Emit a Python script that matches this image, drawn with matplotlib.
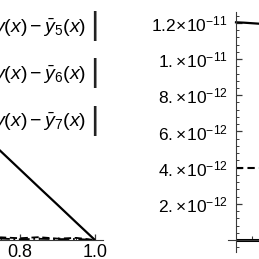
import numpy as np
import matplotlib
matplotlib.use('Agg')
import matplotlib.pyplot as plt
from matplotlib.ticker import FixedLocator, FixedFormatter, NullFormatter

plt.rcParams['font.family'] = ['Liberation Sans', 'DejaVu Sans']
plt.rcParams['mathtext.fontset'] = 'custom'
plt.rcParams['mathtext.rm'] = 'Liberation Sans'
plt.rcParams['mathtext.it'] = 'Liberation Sans:italic'

# left panel: error curves near x = 1
x_left = [0.70, 0.75, 0.80, 0.85, 0.90, 0.95, 1.00]
err5 = [5.85e-12, 4.88e-12, 3.9e-12, 2.92e-12, 1.95e-12, 0.97e-12, 0.0]
err6 = [0.12e-12, 0.15e-12, 0.10e-12, 0.16e-12, 0.08e-12, 0.12e-12, 0.0]
err7 = [0.05e-12, 0.08e-12, 0.04e-12, 0.07e-12, 0.05e-12, 0.06e-12, 0.0]
labels = [r'$\left|y(x)-\bar{y}_5(x)\right.$',
          r'$\left|y(x)-\bar{y}_6(x)\right.$',
          r'$\left|y(x)-\bar{y}_7(x)\right.$']

# right panel
x_right = [0.0, 0.05, 0.10, 0.15, 0.20, 0.40, 0.60, 0.80, 1.00]
sol = [1.203e-11, 1.201e-11, 1.198e-11, 1.195e-11, 1.192e-11, 1.18e-11, 1.17e-11, 1.16e-11, 1.15e-11]
dash = [4.0e-12] * len(x_right)
zero = [0.0] * len(x_right)

ytick_vals = [2e-12, 4e-12, 6e-12, 8e-12, 1e-11, 1.2e-11]
ytick_labels = [r'$2.\!\times\!10^{-12}$', r'$4.\!\times\!10^{-12}$', r'$6.\!\times\!10^{-12}$',
                r'$8.\!\times\!10^{-12}$', r'$1.\!\times\!10^{-11}$', r'$1.2\!\times\!10^{-11}$']

W = 259.0
fig = plt.figure(figsize=(2.59, 2.59), dpi=100)
axis_col = '#3a3a3a'

# left axes, mostly outside the figure
axl = fig.add_axes([-280 / W, 7 / W, 382.5 / W, 240 / W])
axl.set_xlim(0, 1.02)
axl.set_ylim(-0.66e-12, 1.26e-11)
axl.plot(x_left, err5, color='black', lw=1.6, solid_capstyle='butt')
axl.plot(x_left, err6, color='black', lw=1.3, ls=(0, (4, 2)))
axl.plot(x_left, err7, color='black', lw=1.3, ls=(0, (6, 2, 1, 2)))
for s in ['top', 'right', 'left']:
    axl.spines[s].set_visible(False)
axl.spines['bottom'].set_position(('data', 0))
axl.spines['bottom'].set_color(axis_col)
axl.set_yticks([])
axl.xaxis.set_major_locator(FixedLocator([0.8, 1.0]))
axl.xaxis.set_major_formatter(FixedFormatter(['0.8', '1.0']))
axl.xaxis.set_minor_locator(FixedLocator(np.arange(0.75, 1.02, 0.05)))
axl.tick_params(axis='x', which='major', direction='in', length=4, width=0.9,
                color=axis_col, labelsize=13, pad=3)
axl.tick_params(axis='x', which='minor', direction='in', length=2.2, width=0.7, color=axis_col)
axl.patch.set_alpha(0)

for i, lab in enumerate(labels):
    yc = 1 - (26 + 47.5 * i) / W
    fig.text(86 / W, yc, lab, ha='right', va='center', fontsize=14)
    fig.text(94.5 / W, yc, '|', ha='center', va='center', fontsize=23,
             family='Liberation Sans', color='#222222')

# right axes
axr = fig.add_axes([228 / W, 7 / W, 168 / W, 240 / W])
axr.set_xlim(-0.05, 1.0)
axr.set_ylim(-0.66e-12, 1.26e-11)
axr.plot(x_right, sol, color='black', lw=1.6)
axr.plot(x_right, dash, color='black', lw=1.5, ls=(0, (3.5, 2)))
axr.plot(x_right, zero, color='black', lw=2.2, ls=(0, (12, 6)))
for s in ['top', 'right']:
    axr.spines[s].set_visible(False)
axr.spines['left'].set_position(('data', 0))
axr.spines['bottom'].set_position(('data', 0))
axr.spines['left'].set_color(axis_col)
axr.spines['bottom'].set_color(axis_col)
axr.yaxis.set_major_locator(FixedLocator(ytick_vals))
axr.yaxis.set_major_formatter(FixedFormatter(ytick_labels))
axr.yaxis.set_minor_locator(FixedLocator(np.arange(-0.4e-12, 1.26e-11, 0.4e-12)))
axr.yaxis.set_minor_formatter(NullFormatter())
axr.xaxis.set_major_locator(FixedLocator([0.2, 0.4, 0.6, 0.8, 1.0]))
axr.xaxis.set_minor_locator(FixedLocator([0.1, 0.3, 0.5, 0.7, 0.9]))
axr.tick_params(axis='y', which='major', direction='in', length=4, width=0.9,
                color=axis_col, labelsize=12.5, pad=6)
axr.tick_params(axis='y', which='minor', direction='in', length=2.2, width=0.7, color=axis_col)
axr.tick_params(axis='x', which='both', direction='in', length=3, width=0.8,
                color=axis_col, labelbottom=False)
axr.patch.set_alpha(0)

fig.savefig('out.png', dpi=100)
